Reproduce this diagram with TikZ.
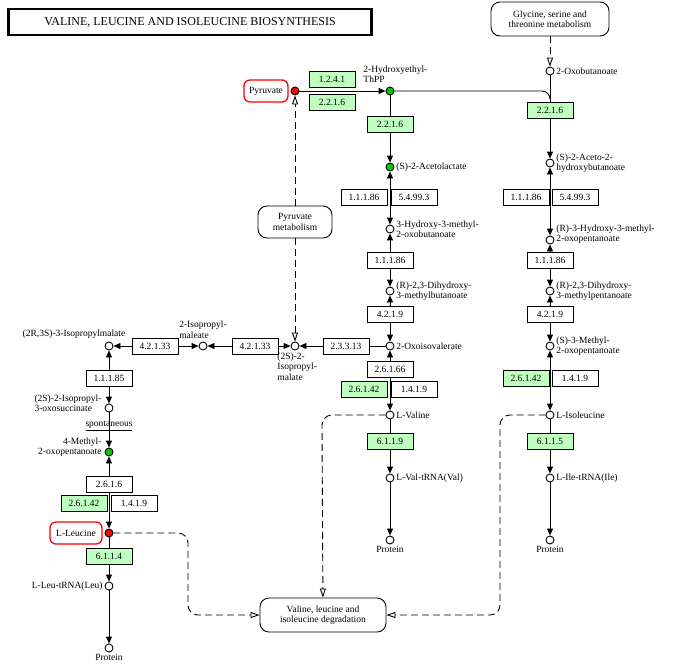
\documentclass[tikz,border=0pt]{standalone}
\usepackage{fontspec}
\setmainfont{Liberation Serif}
\usetikzlibrary{arrows.meta}
\definecolor{eg}{RGB}{191,255,191}
\begin{document}
\begin{tikzpicture}[x=1pt,y=-1pt,font=\fontsize{9.5}{10.5}\selectfont,line width=0.9pt,
 enz/.style={draw,fill=white,minimum width=46pt,minimum height=16pt,inner sep=0pt},
 genz/.style={enz,fill=eg},
 cpd/.style={circle,draw,fill=white,minimum size=8pt,inner sep=0pt},
 gcpd/.style={cpd,fill=green!80!black},
 rcpd/.style={cpd,fill=red},
 map/.style={draw,rounded corners=9pt,align=center,inner sep=2pt},
 lab/.style={align=left,inner sep=1pt},
 ar/.style={-{Triangle[length=7pt,width=6pt]}},
 ra/.style={{Triangle[length=7pt,width=6pt]}-{Triangle[length=7pt,width=6pt]}},
 da/.style={dashed,dash pattern=on 7pt off 4pt,-{Triangle[open,length=9pt,width=6pt]}}]
\useasboundingbox (0,0) rectangle (684,665);
% title
\node[draw,line width=2.2pt,minimum width=363pt,minimum height=26pt,inner sep=0pt,font=\fontsize{12}{13}\selectfont] (title) at (190,22) {VALINE, LEUCINE AND ISOLEUCINE BIOSYNTHESIS};
% maps
\node[map,minimum width=118pt,minimum height=34pt] (gly) at (550,19) {Glycine, serine and\\threonine metabolism};
\node[map,minimum width=74pt,minimum height=32pt] (pyrm) at (295,222) {Pyruvate\\metabolism};
\node[map,minimum width=126pt,minimum height=34pt] (deg) at (323,615) {Valine, leucine and\\isoleucine degradation};
% compounds
\node[rcpd] (pyr) at (295,91) {};
\node[draw=red,rounded corners=6pt,line width=1.3pt,minimum width=44pt,minimum height=22pt,inner sep=0pt] (pyrl) at (266,91) {Pyruvate};
\node[gcpd] (thpp) at (390,91) {};
\node[lab,anchor=south west] at (362,84) {2-Hydroxyethyl-\\ThPP};
\node[gcpd] (acl) at (390,167) {};
\node[lab,anchor=west] at (395,167) {(S)-2-Acetolactate};
\node[cpd] (hmo) at (390,229) {};
\node[lab,anchor=west] at (395,229) {3-Hydroxy-3-methyl-\\2-oxobutanoate};
\node[cpd] (dhm) at (390,291) {};
\node[lab,anchor=west] at (395,291) {(R)-2,3-Dihydroxy-\\3-methylbutanoate};
\node[cpd] (oiv) at (390,346) {};
\node[lab,anchor=west] at (395,346) {2-Oxoisovalerate};
\node[cpd] (val) at (390,415) {};
\node[lab,anchor=west] at (395,415) {L-Valine};
\node[cpd] (valt) at (390,478) {};
\node[lab,anchor=west] at (395,478) {L-Val-tRNA(Val)};
\node[cpd] (prv) at (390,540) {};
\node[lab,anchor=north] at (390,545) {Protein};
% right column
\node[cpd] (obu) at (550,71) {};
\node[lab,anchor=west] at (555,71) {2-Oxobutanoate};
\node[cpd] (ahb) at (550,163) {};
\node[lab,anchor=west] at (555,163) {(S)-2-Aceto-2-\\hydroxybutanoate};
\node[cpd] (hmp) at (550,240) {};
\node[lab,anchor=west] at (555,234) {(R)-3-Hydroxy-3-methyl-\\2-oxopentanoate};
\node[cpd] (dmp) at (550,291) {};
\node[lab,anchor=west] at (555,291) {(R)-2,3-Dihydroxy-\\3-methylpentanoate};
\node[cpd] (mop) at (550,346) {};
\node[lab,anchor=west] at (555,346) {(S)-3-Methyl-\\2-oxopentanoate};
\node[cpd] (ile) at (550,415) {};
\node[lab,anchor=west] at (555,415) {L-Isoleucine};
\node[cpd] (ilet) at (550,478) {};
\node[lab,anchor=west] at (555,478) {L-Ile-tRNA(Ile)};
\node[cpd] (pri) at (550,540) {};
\node[lab,anchor=north] at (550,545) {Protein};
% leucine branch
\node[cpd] (ipm) at (295,346) {};
\node[lab,anchor=north west] at (276,351) {(2S)-2-\\Isopropyl-\\malate};
\node[cpd] (ipma) at (203,346) {};
\node[lab,anchor=south] at (203,340) {2-Isopropyl-\\maleate};
\node[cpd] (ipm3) at (109,346) {};
\node[lab,anchor=south] at (74,340) {(2R,3S)-3-Isopropylmalate};
\node[cpd] (ios) at (109,408) {};
\node[lab,anchor=east] at (103,403) {(2S)-2-Isopropyl-\\3-oxosuccinate};
\node[gcpd] (mop4) at (109,452) {};
\node[lab,anchor=east,align=right] at (103,447) {4-Methyl-\\2-oxopentanoate};
\node[rcpd] (leu) at (109,533) {};
\node[draw=red,rounded corners=6pt,line width=1.3pt,minimum width=52pt,minimum height=22pt,inner sep=0pt] (leul) at (76,533) {L-Leucine};
\node[cpd] (leut) at (109,586) {};
\node[lab,anchor=east] at (104,586) {L-Leu-tRNA(Leu)};
\node[cpd] (prl) at (109,648) {};
\node[lab,anchor=north] at (109,653) {Protein};
% reactions
\draw[ar] (pyr) -- (thpp);
\draw (thpp) -- (542,91) to[out=0,in=90] (550,99);
\draw[ar] (550,99) -- (ahb);
\draw[ar] (thpp) -- (acl);
\draw[ra] (acl) -- (hmo);
\draw[ra] (hmo) -- (dhm);
\draw[ra] (dhm) -- (oiv);
\draw[ra] (oiv) -- (val);
\draw[ar] (val) -- (valt);
\draw[ar] (valt) -- (prv);
\draw[da] (gly) -- (obu);
\draw (obu) -- (550,99);
\draw[ra] (ahb) -- (hmp);
\draw[ra] (hmp) -- (dmp);
\draw[ra] (dmp) -- (mop);
\draw[ra] (mop) -- (ile);
\draw[ar] (ile) -- (ilet);
\draw[ar] (ilet) -- (pri);
\draw[ar] (oiv) -- (ipm);
\draw[ra] (ipm) -- (ipma);
\draw[ra] (ipma) -- (ipm3);
\draw[ra] (ipm3) -- (ios);
\draw[ar] (ios) -- (mop4);
\draw[ra] (mop4) -- (leu);
\draw[ar] (leu) -- (leut);
\draw[ar] (leut) -- (prl);
\draw[da] (pyrm) -- (pyr);
\draw[da] (pyrm) -- (ipm);
% degradation links
\draw[da] (leu) -- (178,533) to[out=0,in=90] (188,543) -- (188,605) to[out=-90,in=180] (198,615) -- (deg);
\draw[da] (val) -- (332,415) to[out=180,in=90] (322,425) -- (deg);
\draw[da] (ile) -- (510,415) to[out=180,in=90] (500,425) -- (500,605) to[out=-90,in=0] (490,615) -- (deg);
% enzymes
\node[genz] (e1) at (332,79) {1.2.4.1};
\node[genz] (e2) at (332,102) {2.2.1.6};
\node[genz] (e3) at (390,124) {2.2.1.6};
\node[enz] (e4) at (364,197) {1.1.1.86};
\node[enz] (e5) at (414,197) {5.4.99.3};
\node[enz] (e6) at (390,260) {1.1.1.86};
\node[enz] (e7) at (390,314) {4.2.1.9};
\node[enz] (e8) at (390,369) {2.6.1.66};
\node[genz] (e9) at (364,389) {2.6.1.42};
\node[enz] (e10) at (414,389) {1.4.1.9};
\node[genz] (e11) at (390,441) {6.1.1.9};
\node[genz] (r1) at (550,110) {2.2.1.6};
\node[enz] (r2) at (526,197) {1.1.1.86};
\node[enz] (r3) at (575,197) {5.4.99.3};
\node[enz] (r4) at (550,260) {1.1.1.86};
\node[enz] (r5) at (550,314) {4.2.1.9};
\node[genz] (r6) at (526,378) {2.6.1.42};
\node[enz] (r7) at (575,378) {1.4.1.9};
\node[genz] (r8) at (550,441) {6.1.1.5};
\node[enz] (l1) at (346,346) {2.3.3.13};
\node[enz] (l2) at (255,346) {4.2.1.33};
\node[enz] (l3) at (155,346) {4.2.1.33};
\node[enz] (l4) at (109,378) {1.1.1.85};
\node[lab] (sp) at (109,426) {\underline{spontaneous}};
\node[enz] (l5) at (109,484) {2.6.1.6};
\node[genz] (l6) at (84,503) {2.6.1.42};
\node[enz] (l7) at (134,503) {1.4.1.9};
\node[genz] (l8) at (109,556) {6.1.1.4};
\end{tikzpicture}
\end{document}
